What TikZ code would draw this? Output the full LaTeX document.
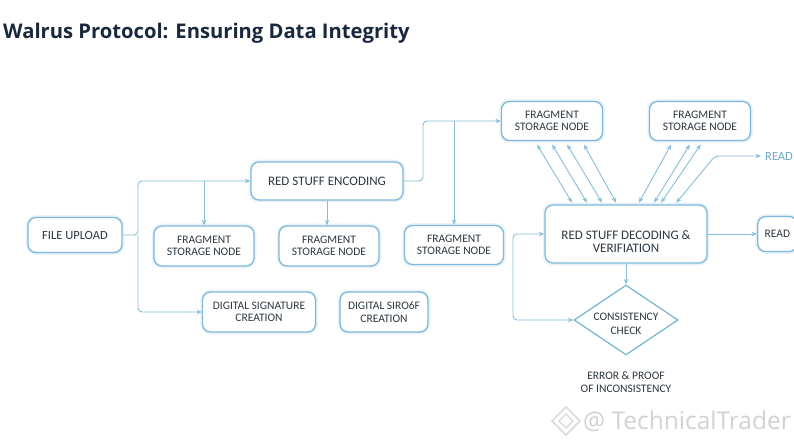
\documentclass[tikz,border=0pt]{standalone}
\usepackage{fontspec}
\setmainfont{Carlito}
\newfontfamily\markfont{Open Sans}
\usetikzlibrary{shapes.geometric, arrows.meta}

\definecolor{boxline}{RGB}{125,185,218}
\definecolor{arrowline}{RGB}{135,190,220}
\definecolor{boxtext}{RGB}{45,55,65}
\definecolor{titletext}{RGB}{25,40,60}

\begin{document}
\begin{tikzpicture}[x=1pt, y=-1pt,
  box/.style={draw=boxline, line width=1.3pt, rounded corners=8pt, fill=white,
    align=center, text=boxtext, inner sep=2pt,
    preaction={draw=boxline!18, line width=4.5pt}},
  twoline/.style={box, font=\fontsize{11.5}{12.5}\selectfont},
  link/.style={draw=arrowline, line width=0.9pt, rounded corners=4pt,
    -{Stealth[length=5.5pt,width=4.5pt]}},
  dbl/.style={link, {Stealth[length=5.5pt,width=4.5pt]}-{Stealth[length=5.5pt,width=4.5pt]},
    shorten <=4pt, shorten >=2pt}
]
\clip (0,0) rectangle (794,446);
\fill[white] (0,0) rectangle (794,446);

% title
\node[anchor=base west, inner sep=0pt, text=titletext,
  font=\markfont\fontsize{20.2}{24}\selectfont\bfseries] (title) at (3,39)
  {Walrus Protocol: Ensuring Data Integrity};

% left part
\node[box, minimum width=94, minimum height=35, font=\fontsize{12.5}{14}\selectfont] (upload) at (75,235) {FILE UPLOAD};
\node[box, minimum width=152, minimum height=38, font=\fontsize{13}{15}\selectfont] (enc) at (327,181) {RED STUFF ENCODING};
\node[twoline, minimum width=100, minimum height=40] (frag1) at (204,246) {FRAGMENT\\STORAGE NODE};
\node[twoline, minimum width=100, minimum height=40] (frag2) at (329,246) {FRAGMENT\\STORAGE NODE};
\node[twoline, minimum width=99, minimum height=39] (frag3) at (454,245) {FRAGMENT\\STORAGE NODE};
\node[twoline, minimum width=113, minimum height=40] (sig1) at (259,312) {DIGITAL SIGNATURE\\CREATION};
\node[twoline, minimum width=88, minimum height=40] (sig2) at (384,312) {DIGITAL SIRO6F\\CREATION};

% right part
\node[twoline, minimum width=101, minimum height=39] (top1) at (552,121) {FRAGMENT\\STORAGE NODE};
\node[twoline, minimum width=101, minimum height=39] (top2) at (700,121) {FRAGMENT\\STORAGE NODE};
\node[box, minimum width=162, minimum height=58, font=\fontsize{13}{13.5}\selectfont] (dec) at (626,234) {\rule{0pt}{24pt}RED STUFF DECODING \&\\VERIFIATION};
\node[box, minimum height=35, inner xsep=7pt, anchor=west, font=\fontsize{11.5}{14}\selectfont] (read) at (757,234) {READ};
\node[diamond, draw=boxline, line width=1.3pt, fill=white, aspect=1.49, inner sep=0pt,
  minimum width=104, minimum height=70,
  label={[align=center, text=boxtext, yshift=-4pt, font=\fontsize{11.5}{13.5}\selectfont]center:CONSISTENCY\\CHECK}] (cc) at (626,320) {};
\node[align=center, text=boxtext, font=\fontsize{11.5}{13.5}\selectfont] (err) at (626,382) {ERROR \& PROOF\\OF INCONSISTENCY};
\node[anchor=west, inner sep=0pt, text=boxline!90!black, font=\fontsize{12.5}{14}\selectfont] (readtop) at (765,156) {READ};

% connectors
\coordinate (split) at (138,235);
\draw[link] (upload.east) -- (split) |- (enc.west);
\draw[link] (split) |- (sig1.west);
\draw[link] (frag1.north |- enc.west) -- (frag1.north);
\draw[link] (enc.south) -- (enc.south |- frag2.north);
\coordinate (encsplit) at (423,181);
\draw[link] (enc.east) -- (encsplit) |- (top1.west);
\draw[link] (frag3.north |- top1.west) -- (frag3.north);

\foreach \a/\b in {-17/-53, -2/-38, 13/-23, 30/-9}
\draw[dbl] ([xshift=\a pt]top1.south) -- ([xshift=\b pt]dec.north);
\foreach \a/\b in {-27/12, -8/27, 3/34}
\draw[dbl] ([xshift=\a pt]top2.south) -- ([xshift=\b pt]dec.north);
\coordinate (readbend) at (715,156);
\draw[link, {Stealth[length=5.5pt,width=4.5pt]}-{Stealth[length=5.5pt,width=4.5pt]}, shorten <=2pt, shorten >=4pt]
  ([xshift=49pt]dec.north) -- (readbend) -- (readtop.west);

\coordinate (loopx) at (513,276);
\draw[link] (loopx) |- (dec.west);
\draw[link] (loopx) |- (cc.west);
\draw[link] (dec.south) -- (cc.north);
\draw[link] (dec.east) -- (read.west);

% watermark
\draw[gray!30, line width=1.5pt] (566,407) -- (580,421) -- (566,435) -- (552,421) -- cycle;
\draw[gray!30, line width=1.2pt] (566,414) -- (573,421) -- (566,428) -- (559,421) -- cycle;
\node[anchor=west, inner sep=0pt, text=gray!35, font=\markfont\fontsize{24.5}{28}\selectfont] (mark) at (583,421) {@ TechnicalTrader};
\end{tikzpicture}
\end{document}
